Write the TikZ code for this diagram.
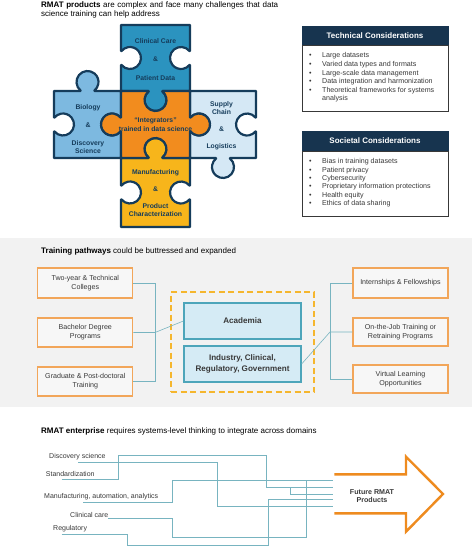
\documentclass[tikz,border=0pt]{standalone}
\usepackage{fontspec}
\setmainfont{Liberation Sans}
\usepackage{tikz}
\usetikzlibrary{positioning}
\definecolor{navy}{HTML}{153C5B}
\definecolor{clinblue}{HTML}{2B93BF}
\definecolor{bioblue}{HTML}{7DB9E0}
\definecolor{integorange}{HTML}{F28C1E}
\definecolor{supplyblue}{HTML}{D5E8F5}
\definecolor{manufyellow}{HTML}{F7B51B}
\definecolor{headnavy}{HTML}{17344F}
\definecolor{bandgray}{HTML}{F2F2F2}
\definecolor{boxorange}{HTML}{F2A65A}
\definecolor{boxfill}{HTML}{F7F7F7}
\definecolor{linkteal}{HTML}{78B4C0}
\definecolor{acadfill}{HTML}{D5EBF5}
\definecolor{acadline}{HTML}{4DA5BA}
\definecolor{dashyellow}{HTML}{F5B62E}
\definecolor{arroworange}{HTML}{EE8B1F}
\definecolor{textgray}{HTML}{383838}
\tikzstyle{puzzle}=[draw=navy,line width=2.2pt,line join=round]
\tikzstyle{piecetext}=[text=navy,font=\fontsize{6.8}{8}\selectfont\bfseries,align=center,inner sep=0pt]
\tikzstyle{conhead}=[draw=headnavy,fill=headnavy,text=white,font=\fontsize{8}{9}\selectfont\bfseries,minimum width=146pt,minimum height=19pt,inner sep=0pt]
\tikzstyle{conbody}=[draw=textgray,line width=0.6pt,fill=white,minimum width=146pt,inner sep=0pt]
\tikzstyle{itemlist}=[text=textgray,font=\fontsize{7.1}{8.6}\selectfont,align=left,inner sep=0pt,anchor=north west]
\tikzstyle{pathbox}=[draw=boxorange,line width=1.2pt,fill=boxfill,minimum width=95pt,minimum height=29pt,inner sep=0pt,align=center,text=textgray,font=\fontsize{7.1}{8.7}\selectfont]
\tikzstyle{sector}=[draw=acadline,line width=1.2pt,fill=acadfill,minimum width=117pt,minimum height=36pt,inner sep=0pt,align=center,text=textgray,font=\fontsize{8.1}{10.2}\selectfont\bfseries]
\tikzstyle{hubbox}=[draw=dashyellow,line width=1.5pt,dash pattern=on 6pt off 3.5pt,minimum width=143pt,minimum height=100pt]
\tikzstyle{link}=[draw=linkteal,line width=0.6pt]
\tikzstyle{domainlabel}=[anchor=west,inner sep=0pt,text=textgray,font=\fontsize{7}{8}\selectfont]
\tikzstyle{heading}=[anchor=west,inner sep=0pt,text=black,font=\fontsize{8}{9}\selectfont]
% jigsaw tabs: edge point x, y and direction of travel
\def\knobneck{7}
\def\knobrad{11}
\def\knobdist{9}
\def\knobang{50.5}
\newcommand\knob[3]{-- ({#1+\knobneck*cos(#3+180)},{#2+\knobneck*sin(#3+180)})
  -- ({#1+\knobdist*cos(#3+90)+\knobrad*cos(#3+180+\knobang)},{#2+\knobdist*sin(#3+90)+\knobrad*sin(#3+180+\knobang)})
  arc[start angle={#3+180+\knobang},end angle={#3-\knobang},radius=\knobrad pt]
  -- ({#1+\knobneck*cos(#3)},{#2+\knobneck*sin(#3)})}
\newcommand\hole[3]{-- ({#1+\knobneck*cos(#3+180)},{#2+\knobneck*sin(#3+180)})
  -- ({#1+\knobdist*cos(#3-90)+\knobrad*cos(#3-180-\knobang)},{#2+\knobdist*sin(#3-90)+\knobrad*sin(#3-180-\knobang)})
  arc[start angle={#3-180-\knobang},end angle={#3+\knobang},radius=\knobrad pt]
  -- ({#1+\knobneck*cos(#3)},{#2+\knobneck*sin(#3)})}
\begin{document}
\begin{tikzpicture}[x=1pt,y=1pt]
\useasboundingbox (0,0) rectangle (474,-546);

% top part
\node[inner sep=0pt,anchor=north west,align=left,font=\fontsize{8}{9}\selectfont] (title) at (41,-1.5)
  {\makebox[237pt][s]{\textbf{RMAT products} are complex and face many challenges that data}\\science training can help address};

\filldraw[puzzle,fill=clinblue] (121,-25) -- (190,-25) \hole{190}{-58}{-90} -- (190,-91)
  \knob{155.5}{-91}{180} -- (121,-91) \hole{121}{-58}{90} -- cycle;
\filldraw[puzzle,fill=bioblue] (54,-91) \knob{87.5}{-91}{0} -- (121,-91) \hole{121}{-124.5}{-90}
  -- (121,-158) -- (54,-158) \hole{54}{-124.5}{90} -- cycle;
\filldraw[puzzle,fill=supplyblue] (190,-91) -- (256,-91) \hole{256}{-124.5}{-90} -- (256,-158)
  \knob{223}{-158}{180} -- (190,-158) \hole{190}{-124.5}{90} -- cycle;
\filldraw[puzzle,fill=manufyellow] (121,-158) \knob{155.5}{-158}{0} -- (190,-158) \hole{190}{-192.5}{-90}
  -- (190,-227) -- (121,-227) \hole{121}{-192.5}{90} -- cycle;
\filldraw[puzzle,fill=integorange] (121,-91) \hole{155.5}{-91}{0} -- (190,-91) \knob{190}{-124.5}{-90}
  -- (190,-158) \hole{155.5}{-158}{180} -- (121,-158) \knob{121}{-124.5}{90} -- cycle;

\node[piecetext] (clin) at (155.5,-59.5) {Clinical Care\\[10.5pt]\&\\[10.5pt]Patient Data};
\node[piecetext] (bio) at (88,-129) {Biology\\[10pt]\&\\[10pt]Discovery\\Science};
\node[piecetext] (integ) at (155.5,-124.5) {“Integrators”\\[1pt]trained in data science};
\node[piecetext] (supply) at (221.5,-125.5) {Supply\\Chain\\[9pt]\&\\[9pt]Logistics};
\node[piecetext] (manuf) at (155.5,-193) {Manufacturing\\[9pt]\&\\[9pt]Product\\Characterization};

\node[conhead] (techhead) at (375,-35.5) {Technical Considerations};
\node[conbody,minimum height=66pt,below=0pt of techhead] (techbody) {};
\node[itemlist] (techlist) at (309,-52.5) {\makebox[13pt][l]{\textbullet}Large datasets\\
  \makebox[13pt][l]{\textbullet}Varied data types and formats\\
  \makebox[13pt][l]{\textbullet}Large-scale data management\\
  \makebox[13pt][l]{\textbullet}Data integration and harmonization\\
  \makebox[13pt][l]{\textbullet}Theoretical frameworks for systems\\
  \hspace*{13pt}analysis};

\node[conhead] (sochead) at (375,-141) {Societal Considerations};
\node[conbody,minimum height=65pt,below=0pt of sochead] (socbody) {};
\node[itemlist,font=\fontsize{7.1}{8.35}\selectfont] (soclist) at (309,-158.5) {\makebox[13pt][l]{\textbullet}Bias in training datasets\\
  \makebox[13pt][l]{\textbullet}Patient privacy\\
  \makebox[13pt][l]{\textbullet}Cybersecurity\\
  \makebox[13pt][l]{\textbullet}Proprietary information protections\\
  \makebox[13pt][l]{\textbullet}Health equity\\
  \makebox[13pt][l]{\textbullet}Ethics of data sharing};

% middle part
\fill[bandgray] (0,-238) rectangle (472,-407);
\node[heading] (pathtitle) at (41,-251.7) {\textbf{Training pathways} could be buttressed and expanded};

\node[pathbox,minimum height=30pt] (twoyear) at (85.3,-283) {Two-year \& Technical\\Colleges};
\node[pathbox] (bachelor) at (85.3,-332.5) {Bachelor Degree\\Programs};
\node[pathbox] (grad) at (85.3,-381.5) {Graduate \& Post-doctoral\\Training};

\node[pathbox,minimum height=30pt] (intern) at (400.5,-283) {Internships \& Fellowships};
\node[pathbox,minimum height=28pt] (onjob) at (400.5,-332) {On-the-Job Training or\\Retraining Programs};
\node[pathbox,minimum height=28pt] (virtual) at (400.5,-379) {Virtual Learning\\Opportunities};

\node[hubbox] (hub) at (242.5,-342) {};
\node[sector] (acad) at (242.5,-321) {Academia};
\node[sector] (ind) at (242.5,-364) {Industry, Clinical,\\Regulatory, Government};

\coordinate (busL) at (155,-332);
\coordinate (busR) at (330,-332);
\draw[link] (twoyear.east) -- (twoyear.east -| busL) -- (grad.east -| busL) -- (grad.east);
\draw[link] (bachelor.east) -- (bachelor.east -| busL) -- (acad.west);
\draw[link] (intern.west) -- (intern.west -| busR) -- (virtual.west -| busR) -- (virtual.west);
\draw[link] (onjob.west) -- (onjob.west -| busR) -- (ind.east);

% bottom part
\node[heading] (enttitle) at (41,-431.7) {\textbf{RMAT enterprise} requires systems-level thinking to integrate across domains};

\node[domainlabel] (ldisc) at (49,-456.7) {Discovery science};
\node[domainlabel] (lstd) at (45.7,-474.3) {Standardization};
\node[domainlabel] (lman) at (44,-496.7) {Manufacturing, automation, analytics};
\node[domainlabel] (lclin) at (70,-515) {Clinical care};
\node[domainlabel] (lreg) at (53,-528.7) {Regulatory};

\coordinate (sdisc) at (78,-462.3);
\coordinate (sstd) at (61.7,-479.3);
\coordinate (sman) at (83,-502.5);
\coordinate (sclin) at (108,-518.5);
\coordinate (sreg) at (61.7,-534);
\coordinate (enda) at (333.3,-480);
\coordinate (endb) at (333.3,-487.3);
\coordinate (endc) at (333.3,-494);
\coordinate (endd) at (333.3,-499.3);
\coordinate (ende) at (333.3,-506.7);

\draw[link] (sdisc) -| (217.3,-506.7) -- (ende);
\draw[link] (sstd) -- (118.3,-479.3) |- (266.7,-455) |- (endb);
\draw[link] (290.7,-487.3) |- (endc);
\draw[link] (sman) -- (172.5,-502.5) |- (enda);
\draw[link] (sclin) -| (172.5,-537.7) -| (306,-480);
\draw[link] (sreg) -- (127.7,-534) -- (127.7,-545) -| (268,-499.3) -- (endd);

\draw[arroworange,line width=2.4pt,line join=miter] (334.3,-474.3) -- (406,-474.3) -- (406,-456.7)
  -- (443,-494) -- (406,-531.7) -- (406,-513.3) -- (334.3,-513.3);
\node[align=center,inner sep=0pt,text=textgray,font=\fontsize{7.1}{8.3}\selectfont\bfseries] (future) at (372,-495.8) {Future RMAT\\Products};
\end{tikzpicture}
\end{document}
